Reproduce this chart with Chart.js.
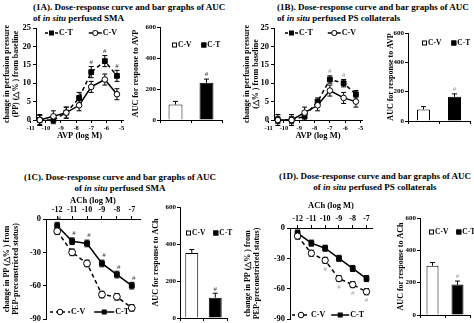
<!DOCTYPE html>
<html>
<head>
<meta charset="utf-8">
<script src="https://cdn.jsdelivr.net/npm/chart.js@4.4.1/dist/chart.umd.min.js"></script>
<style>
  body { margin: 0; width: 474px; height: 323px; background: #fff; position: relative; overflow: hidden;
         font-family: "Liberation Serif", serif; font-weight: bold; color: #000; }
  .ttl { position: absolute; font-size: 9px; line-height: 11px; white-space: nowrap; }
  .ctr { text-align: center; width: 210px; }
  canvas { position: absolute; }
</style>
</head>
<body>
<div class="ttl" style="left:33px;top:2px">(1A). Dose-response curve and bar graphs of AUC<br>of <i>in situ</i> perfused SMA</div>
<div class="ttl" style="left:277px;top:2px">(1B). Dose-response curve and bar graphs of AUC<br>of <i>in situ</i> perfused PS collaterals</div>
<div class="ttl ctr" style="left:15px;top:172px">(1C). Dose-response curve and bar graphs of AUC<br>of <i>in situ</i> perfused SMA</div>
<div class="ttl ctr" style="left:270px;top:171px">(1D). Dose-response curve and bar graphs of AUC<br>of <i>in situ</i> perfused PS collaterals</div>

<canvas id="lineA"></canvas>
<canvas id="barA"></canvas>
<canvas id="lineB"></canvas>
<canvas id="barB"></canvas>
<canvas id="lineC"></canvas>
<canvas id="barC"></canvas>
<canvas id="lineD"></canvas>
<canvas id="barD"></canvas>

<script>
// AVP dose-response (log M)
const avpDose = [-10.4, -9.5, -8.65, -7.8, -7, -6.1, -5.3];
const avpTicks = [-11, -10, -9, -8, -7, -6, -5];

const smaAvpCT = [0, 0, 2, 6, 13, 16, 12];
const smaAvpCTErr = [1.2, 1, 1.5, 1.5, 1.5, 1.5, 1.5];
const smaAvpCV = [0, 1, 2, 4, 9, 11, 7];
const smaAvpCVErr = [1.5, 1.5, 1.5, 1.5, 1.5, 1.5, 1.5];
const smaAvpHash = [false, false, false, false, true, true, true];

const psAvpCT = [0, 0, 1, 5, 11, 10, 7];
const psAvpCTErr = [1, 1, 1, 1, 1, 1, 1];
const psAvpCV = [0, 0, 2, 4, 8, 6, 5];
const psAvpCVErr = [1.5, 1.5, 1.5, 1.5, 1.5, 1.5, 1.5];
const psAvpHash = [false, false, false, false, true, true, false];

// ACh dose-response (log M)
const achDose = [-12, -11, -10, -9, -8, -7];
const achTicks = [-12, -11, -10, -9, -8, -7];

const smaAchCV = [-11, -30, -40, -68, -70, -80];
const smaAchCVErr = [3, 3, 3, 3, 3, 3];
const smaAchCT = [-6, -20, -22, -40, -50, -60];
const smaAchCTErr = [3, 3, 3, 3, 3, 3];
const smaAchHash = [true, true, true, true, true, true];

const psAchCV = [-8, -25, -32, -50, -56, -63];
const psAchCVErr = [3, 3, 3, 3, 3, 3];
const psAchCT = [-5, -15, -20, -30, -40, -50];
const psAchCTErr = [3, 3, 3, 3, 3, 3];
const psAchHash = [false, false, true, true, true, true];

// AUC bars
const aucGroups = ['C-V', 'C-T'];
const aucSmaAvp = [100, 240];
const aucSmaAvpErr = [20, 24];
const aucPsAvp = [78, 165];
const aucPsAvpErr = [20, 20];
const aucSmaAch = [352, 110];
const aucSmaAchErr = [18, 24];
const aucPsAch = [305, 188];
const aucPsAchErr = [20, 22];
const aucTicks = [0, 200, 400, 600];

const FONT = 'Liberation Serif';
Chart.defaults.font.family = FONT;
Chart.defaults.font.weight = 'bold';
Chart.defaults.font.size = 8;
Chart.defaults.color = '#000';
Chart.defaults.animation = false;

function valOf(d) { return typeof d === 'object' ? d.y : d; }

function marker(ctx, kind, x, y, r) {
  ctx.lineWidth = 1;
  ctx.strokeStyle = '#000';
  if (kind === 'rect') {
    ctx.fillStyle = '#000';
    ctx.fillRect(x - 2.5, y - 2.5, 5, 5);
  } else {
    ctx.fillStyle = '#fff';
    ctx.beginPath();
    ctx.arc(x, y, r || 2.6, 0, Math.PI * 2);
    ctx.fill();
    ctx.stroke();
  }
}

function drawLegend(chart, lg) {
  const ctx = chart.ctx, a = chart.chartArea;
  let x = a.left + lg.x;
  const y = lg.y < 0 ? a.bottom + lg.y : a.top + lg.y;
  ctx.save();
  ctx.font = 'bold ' + lg.size + 'px "' + FONT + '"';
  ctx.textBaseline = 'middle';
  ctx.textAlign = 'left';
  lg.items.forEach(it => {
    if (it.box) {
      ctx.lineWidth = 1;
      ctx.strokeStyle = '#000';
      ctx.fillStyle = it.fill;
      ctx.fillRect(x, y - 2.5, 5, 5);
      ctx.strokeRect(x + 0.5, y - 2, 4, 4);
      x += 6;
    } else {
      ctx.lineWidth = 1.5;
      ctx.strokeStyle = '#000';
      ctx.setLineDash(it.dash);
      ctx.beginPath();
      ctx.moveTo(x, y);
      ctx.lineTo(x + lg.seg, y);
      ctx.stroke();
      ctx.setLineDash([]);
      marker(ctx, it.point, x + lg.seg / 2, y, lg.r);
      x += lg.seg + 1;
    }
    ctx.fillStyle = '#000';
    ctx.fillText(it.text, x, y);
    x += ctx.measureText(it.text).width + lg.gap;
  });
  ctx.restore();
}

// error bars, "#" marks and inner legends
const extras = {
  id: 'extras',
  beforeDatasetsDraw(chart) {
    const ctx = chart.ctx, ys = chart.scales.y;
    ctx.save();
    ctx.strokeStyle = '#000';
    ctx.lineWidth = 1;
    chart.data.datasets.forEach((ds, i) => {
      if (!ds.err) return;
      chart.getDatasetMeta(i).data.forEach((el, j) => {
        const v = valOf(ds.data[j]), e = ds.err[j];
        const top = ys.getPixelForValue(v + e);
        const bot = ys.getPixelForValue(ds.errUp ? v : v - e);
        const x = el.x;
        ctx.beginPath();
        ctx.moveTo(x, top); ctx.lineTo(x, bot);
        ctx.moveTo(x - 2.5, top); ctx.lineTo(x + 2.5, top);
        if (!ds.errUp) { ctx.moveTo(x - 2.5, bot); ctx.lineTo(x + 2.5, bot); }
        ctx.stroke();
      });
    });
    ctx.restore();
  },
  afterDatasetsDraw(chart, args, opts) {
    const ctx = chart.ctx, ys = chart.scales.y;
    ctx.save();
    chart.data.datasets.forEach((ds, i) => {
      if (!ds.hash) return;
      ctx.font = (ds.hashSize || 7) + 'px "' + FONT + '"';
      ctx.fillStyle = ds.hashColor || '#000';
      ctx.textAlign = 'center';
      chart.getDatasetMeta(i).data.forEach((el, j) => {
        if (!ds.hash[j]) return;
        const v = valOf(ds.data[j]), e = ds.err ? ds.err[j] : 0;
        const dx = ds.hashDx || 0;
        if (ds.hashBelow) {
          ctx.textBaseline = 'top';
          ctx.fillText('#', el.x + dx, ys.getPixelForValue(v - e) + 2);
        } else {
          ctx.textBaseline = 'bottom';
          ctx.fillText('#', el.x + dx, ys.getPixelForValue(v + e) - 1);
        }
      });
    });
    ctx.restore();
    if (opts && opts.legend) drawLegend(chart, opts.legend);
  }
};
Chart.register(extras);

const PAD = 8;
function place(id, box) {
  const c = document.getElementById(id);
  c.width = box.r - box.l + box.yW + PAD;
  c.height = box.b - box.t + box.xH + 2 * PAD;
  c.style.left = (box.l - box.yW) + 'px';
  c.style.top = (box.t - PAD - (box.xTop ? box.xH : 0)) + 'px';
  return c;
}

function lineSet(xs, ys, err, dashed, point, extra) {
  return Object.assign({
    data: xs.map((x, i) => ({ x: x, y: ys[i] })),
    err: err,
    borderColor: '#000',
    borderWidth: 1.5,
    borderDash: dashed ? [4, 3] : [],
    pointStyle: point === 'rect' ? 'rect' : 'circle',
    pointRadius: point === 'rect' ? 3.4 : 2.8,
    pointBackgroundColor: point === 'rect' ? '#000' : '#fff',
    pointBorderColor: '#000',
    pointBorderWidth: 1,
    fill: false,
    tension: 0,
    clip: false
  }, extra || {});
}

function lineChart(id, box, cfg) {
  const c = place(id, box);
  return new Chart(c, {
    type: 'line',
    data: { datasets: cfg.datasets },
    options: {
      responsive: false,
      layout: { padding: { top: PAD, bottom: PAD, right: PAD, left: 0 } },
      plugins: { legend: { display: false }, tooltip: { enabled: false }, extras: { legend: cfg.legend } },
      scales: {
        x: {
          type: 'linear',
          position: box.xTop ? 'top' : 'bottom',
          min: cfg.xMin, max: cfg.xMax,
          afterBuildTicks: s => { s.ticks = cfg.xTicks.map(v => ({ value: v })); },
          afterFit: s => { s.height = box.xH; },
          grid: { drawOnChartArea: false, tickLength: 3, color: '#000' },
          border: { color: '#000', width: 1 },
          ticks: { font: { size: cfg.xTickSize }, padding: 1, maxRotation: 0, autoSkip: false },
          title: { display: true, text: cfg.xTitle, font: { size: 8.5 }, padding: { top: cfg.xTitlePad || 0, bottom: 0 } }
        },
        y: {
          min: cfg.yMin, max: cfg.yMax,
          afterFit: s => { s.width = box.yW; },
          grid: { drawOnChartArea: false, tickLength: 3, color: '#000' },
          border: { color: '#000', width: 1 },
          ticks: { stepSize: cfg.yStep, font: { size: 8.5 }, padding: 2 },
          title: { display: true, text: cfg.yTitle, font: { size: 8 }, padding: { top: 2, bottom: 0 } }
        }
      }
    }
  });
}

function barChart(id, box, vals, errs, hashColor, yTitle, legend) {
  const c = place(id, box);
  return new Chart(c, {
    type: 'bar',
    data: {
      labels: aucGroups,
      datasets: [{
        data: vals,
        err: errs,
        errUp: true,
        backgroundColor: ['#fff', '#000'],
        borderColor: '#000',
        borderWidth: 1,
        barPercentage: box.barPct,
        categoryPercentage: 1,
        hash: [false, true],
        hashColor: hashColor
      }]
    },
    options: {
      responsive: false,
      layout: { padding: { top: PAD, bottom: PAD, right: PAD, left: 0 } },
      plugins: { legend: { display: false }, tooltip: { enabled: false }, extras: { legend: legend } },
      scales: {
        x: {
          afterFit: s => { s.height = box.xH; },
          ticks: { display: false },
          grid: { drawOnChartArea: false, tickLength: 3, offset: true, color: '#000' },
          border: { color: '#000', width: 1 }
        },
        y: {
          min: 0, max: 600,
          afterBuildTicks: s => { s.ticks = aucTicks.map(v => ({ value: v })); },
          afterFit: s => { s.width = box.yW; },
          grid: { drawOnChartArea: false, tickLength: 3, color: '#000' },
          border: { color: '#000', width: 1 },
          ticks: { font: { size: 7 }, padding: 1 },
          title: { display: true, text: yTitle, font: { size: 8 }, padding: { top: 1, bottom: 0 } }
        }
      }
    }
  });
}

function barLegend(x, y, gap) {
  return { x: x, y: y, size: 7.5, gap: gap, items: [
    { box: true, fill: '#fff', text: 'C-V' },
    { box: true, fill: '#000', text: 'C-T' }
  ] };
}

const avpTitleA = ['change in perfusion pressure', '(PP) (\u25B3% ) from baseline'];
const avpTitleB = ['change in perfusion pressure', '(\u25B3% ) from baseline'];
const achTitle = ['change in PP (\u25B3% ) from', 'PEP-preconstricted status)'];

// 1A
lineChart('lineA', { l: 36, t: 28, r: 123, b: 120, yW: 36, xH: 21 }, {
  xMin: -10.65, xMax: -4.9, xTicks: avpTicks, xTickSize: 6.5, xTitle: 'AVP (log M)',
  yMin: 0, yMax: 25, yStep: 5, yTitle: avpTitleA,
  datasets: [
    lineSet(avpDose, smaAvpCV, smaAvpCVErr, false, 'circle'),
    lineSet(avpDose, smaAvpCT, smaAvpCTErr, true, 'rect', { hash: smaAvpHash, hashColor: '#333', hashSize: 7 })
  ],
  legend: { x: 9, y: 5, size: 8, seg: 13, gap: 16, items: [
    { text: 'C-T', dash: [3, 2], point: 'rect' },
    { text: 'C-V', dash: [], point: 'circle' }
  ] }
});
barChart('barA', { l: 160, t: 27, r: 222, b: 120, yW: 30, xH: 5, barPct: 0.45 },
  aucSmaAvp, aucSmaAvpErr, '#333', 'AUC for response to AVP', barLegend(12, 18, 10));

// 1B
lineChart('lineB', { l: 274, t: 28, r: 362, b: 120, yW: 34, xH: 21 }, {
  xMin: -10.65, xMax: -4.9, xTicks: avpTicks, xTickSize: 6.5, xTitle: 'AVP (log M)',
  yMin: 0, yMax: 25, yStep: 5, yTitle: avpTitleB,
  datasets: [
    lineSet(avpDose, psAvpCV, psAvpCVErr, false, 'circle'),
    lineSet(avpDose, psAvpCT, psAvpCTErr, true, 'rect', { hash: psAvpHash, hashColor: '#999', hashSize: 7 })
  ],
  legend: { x: 11, y: 5, size: 8, seg: 13, gap: 15, items: [
    { text: 'C-T', dash: [3, 2], point: 'rect' },
    { text: 'C-V', dash: [], point: 'circle' }
  ] }
});
barChart('barB', { l: 408, t: 33, r: 470, b: 121, yW: 23, xH: 5, barPct: 0.42 },
  aucPsAvp, aucPsAvpErr, '#999', 'AUC for response to AVP', barLegend(14, 10, 10));

// 1C
lineChart('lineC', { l: 46, t: 219, r: 140, b: 319, yW: 46, xH: 23, xTop: true }, {
  xMin: -12.75, xMax: -6.45, xTicks: achTicks, xTickSize: 8, xTitle: 'ACh (log M)',
  yMin: -90, yMax: 0, yStep: 30, yTitle: achTitle,
  datasets: [
    lineSet(achDose, smaAchCV, smaAchCVErr, true, 'circle', { pointRadius: 3.4 }),
    lineSet(achDose, smaAchCT, smaAchCTErr, false, 'rect', { hash: smaAchHash, hashColor: '#333', hashDx: 2, hashSize: 7 })
  ],
  legend: { x: 4, y: -7, size: 8, seg: 20, gap: 9, r: 2.8, items: [
    { text: 'C-V', dash: [3, 3], point: 'circle' },
    { text: 'C-T', dash: [], point: 'rect' }
  ] }
});
barChart('barC', { l: 180, t: 207, r: 227, b: 318, yW: 30, xH: 5, barPct: 0.55 },
  aucSmaAch, aucSmaAchErr, '#333', 'AUC for response to ACh', barLegend(6, 26, 8));

// 1D
lineChart('lineD', { l: 290, t: 228, r: 372, b: 319, yW: 49, xH: 27, xTop: true }, {
  xMin: -12.55, xMax: -6.6, xTicks: achTicks, xTickSize: 8, xTitle: 'ACh (log M)',
  yMin: -90, yMax: 0, yStep: 30, yTitle: achTitle,
  datasets: [
    lineSet(achDose, psAchCV, psAchCVErr, true, 'circle', { pointRadius: 3.2, hash: psAchHash, hashBelow: true, hashColor: '#999', hashSize: 7 }),
    lineSet(achDose, psAchCT, psAchCTErr, false, 'rect')
  ],
  legend: { x: 2, y: -4, size: 8, seg: 18, gap: 6, r: 2.8, items: [
    { text: 'C-V', dash: [3, 3], point: 'circle' },
    { text: 'C-T', dash: [], point: 'rect' }
  ] }
});
barChart('barD', { l: 420, t: 218, r: 470, b: 315, yW: 25, xH: 5, barPct: 0.48 },
  aucPsAch, aucPsAchErr, '#999', 'AUC for response to ACh', barLegend(9, 14, 8));
</script>
</body>
</html>
